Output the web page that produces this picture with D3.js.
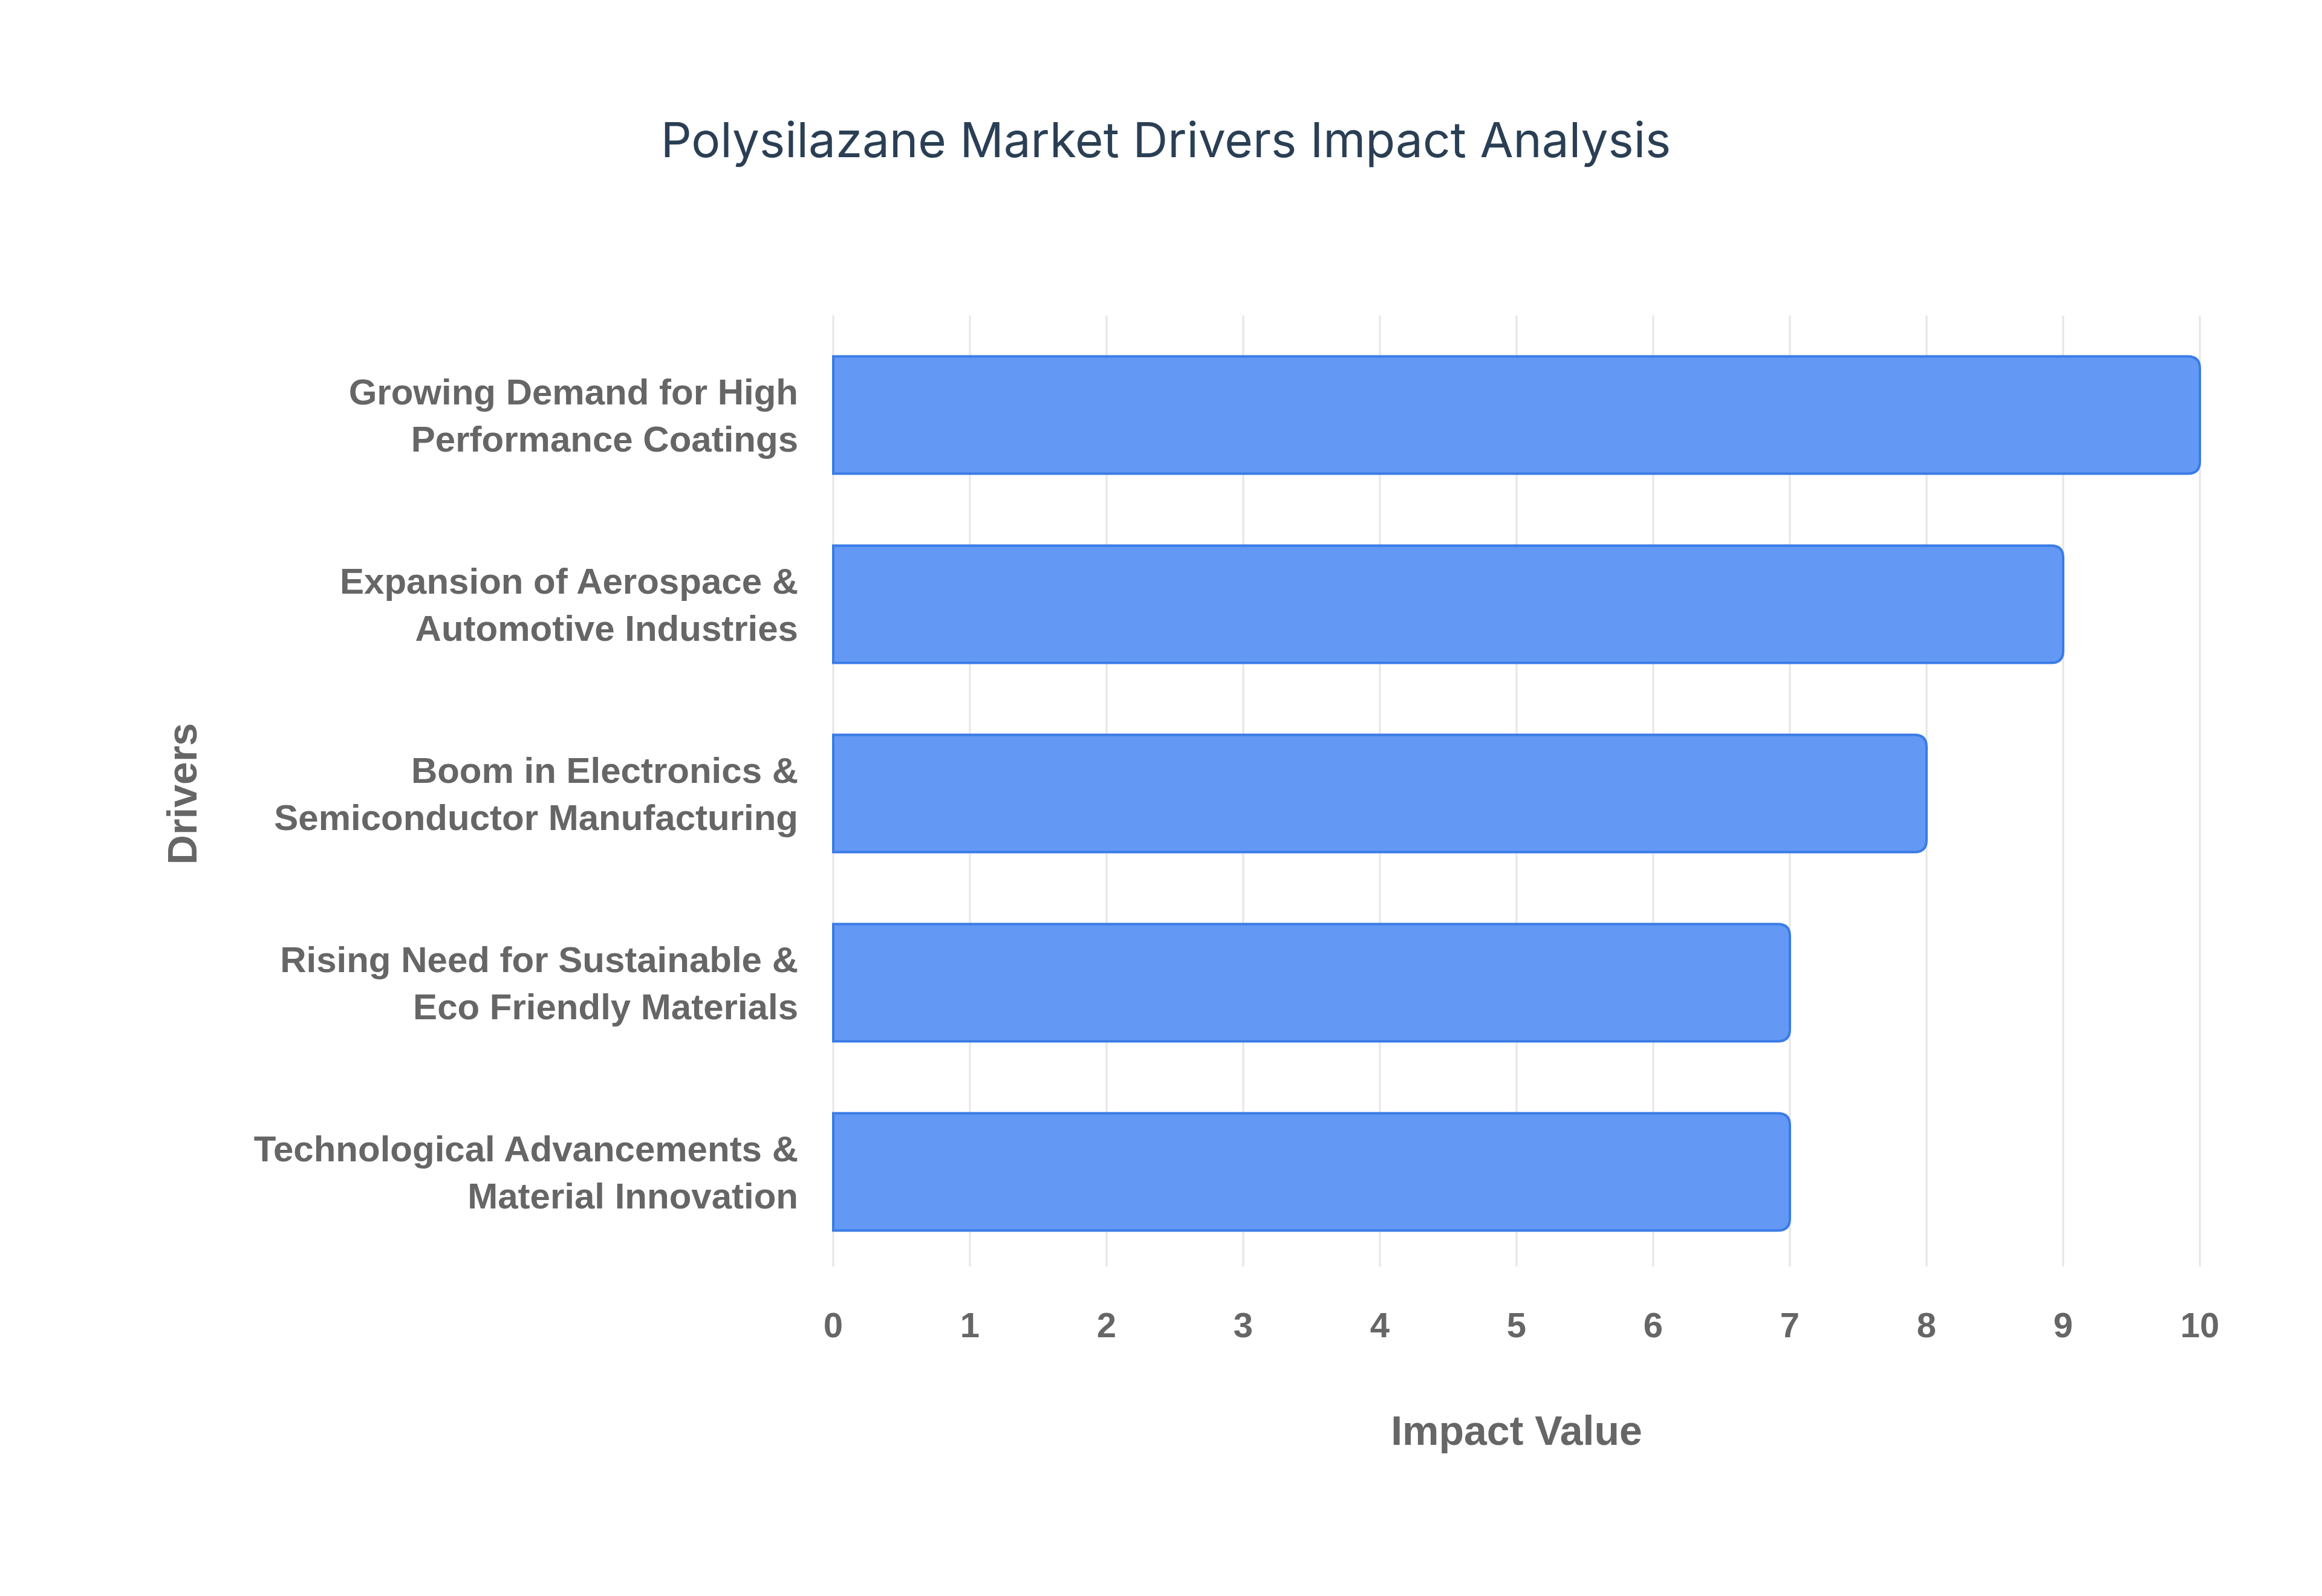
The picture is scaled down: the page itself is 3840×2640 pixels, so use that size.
<!DOCTYPE html>
<html><head><meta charset="utf-8">
<script src="https://cdn.jsdelivr.net/npm/d3@7"></script>
<style>body{margin:0;background:#fff}</style>
</head><body>
<div id="chart"></div>
<script>
// data
const drivers = [
  ["Growing Demand for High", "Performance Coatings"],
  ["Expansion of Aerospace &", "Automotive Industries"],
  ["Boom in Electronics &", "Semiconductor Manufacturing"],
  ["Rising Need for Sustainable &", "Eco Friendly Materials"],
  ["Technological Advancements &", "Material Innovation"]
];
const impactValues = [10, 9, 8, 7, 7];
const xTicks = [0, 1, 2, 3, 4, 5, 6, 7, 8, 9, 10];

const W = 3840, H = 2640;
const margin = {left: 1378, right: 3638, top: 530, bottom: 2095};
const labelFont = "'Liberation Sans', Arial, sans-serif";

const svg = d3.select("#chart").append("svg").attr("width", W).attr("height", H);

const x = d3.scaleLinear().domain([0, 10]).range([margin.left, margin.right]);
const y = d3.scaleBand().domain(d3.range(drivers.length)).range([margin.top, margin.bottom]).paddingInner(0.38).paddingOuter(0.19);

// grid
svg.append("g").selectAll("line").data(xTicks).join("line")
  .attr("x1", d => x(d)).attr("x2", d => x(d))
  .attr("y1", margin.top - 8).attr("y2", margin.bottom)
  .attr("stroke", "#e6e6e6").attr("stroke-width", 3);

// bars (rounded on the right end)
const r = 20;
svg.append("g").selectAll("path").data(impactValues).join("path")
  .attr("d", (d, i) => {
    const x0 = x(0), x1 = x(d), y0 = y(i), h = y.bandwidth();
    return `M${x0},${y0}H${x1 - r}Q${x1},${y0} ${x1},${y0 + r}V${y0 + h - r}Q${x1},${y0 + h} ${x1 - r},${y0 + h}H${x0}Z`;
  })
  .attr("fill", "#6399f5").attr("stroke", "#3a7be6").attr("stroke-width", 4);

// y labels
const yl = svg.append("g").selectAll("text").data(drivers).join("text")
  .attr("x", margin.left - 58)
  .attr("y", (d, i) => y(i) + y.bandwidth() / 2)
  .attr("text-anchor", "end")
  .attr("font-family", labelFont).attr("font-weight", "bold")
  .attr("font-size", 60).attr("fill", "#666");
yl.selectAll("tspan").data(d => d).join("tspan")
  .attr("x", margin.left - 58)
  .attr("dy", (d, j) => j === 0 ? -18 : 78)
  .text(d => d);

// x tick labels
svg.append("g").selectAll("text").data(xTicks).join("text")
  .attr("x", d => x(d)).attr("y", 2212)
  .attr("text-anchor", "middle")
  .attr("font-family", labelFont).attr("font-weight", "bold")
  .attr("font-size", 58).attr("fill", "#666")
  .text(d => d);

// axis titles
svg.append("text").attr("x", x(5)).attr("y", 2390).attr("text-anchor", "middle")
  .attr("font-family", labelFont).attr("font-weight", "bold")
  .attr("font-size", 68).attr("fill", "#666").text("Impact Value");

svg.append("text").attr("transform", "translate(325,1313) rotate(-90)").attr("text-anchor", "middle")
  .attr("font-family", labelFont).attr("font-weight", "bold")
  .attr("font-size", 68).attr("fill", "#666").text("Drivers");

// title
svg.append("text").attr("x", 1928).attr("y", 260).attr("text-anchor", "middle")
  .attr("font-family", "Inter, 'Noto Sans', sans-serif")
  .attr("font-size", 80).attr("fill", "#2a3f54")
  .text("Polysilazane Market Drivers Impact Analysis");
</script>
</body></html>
